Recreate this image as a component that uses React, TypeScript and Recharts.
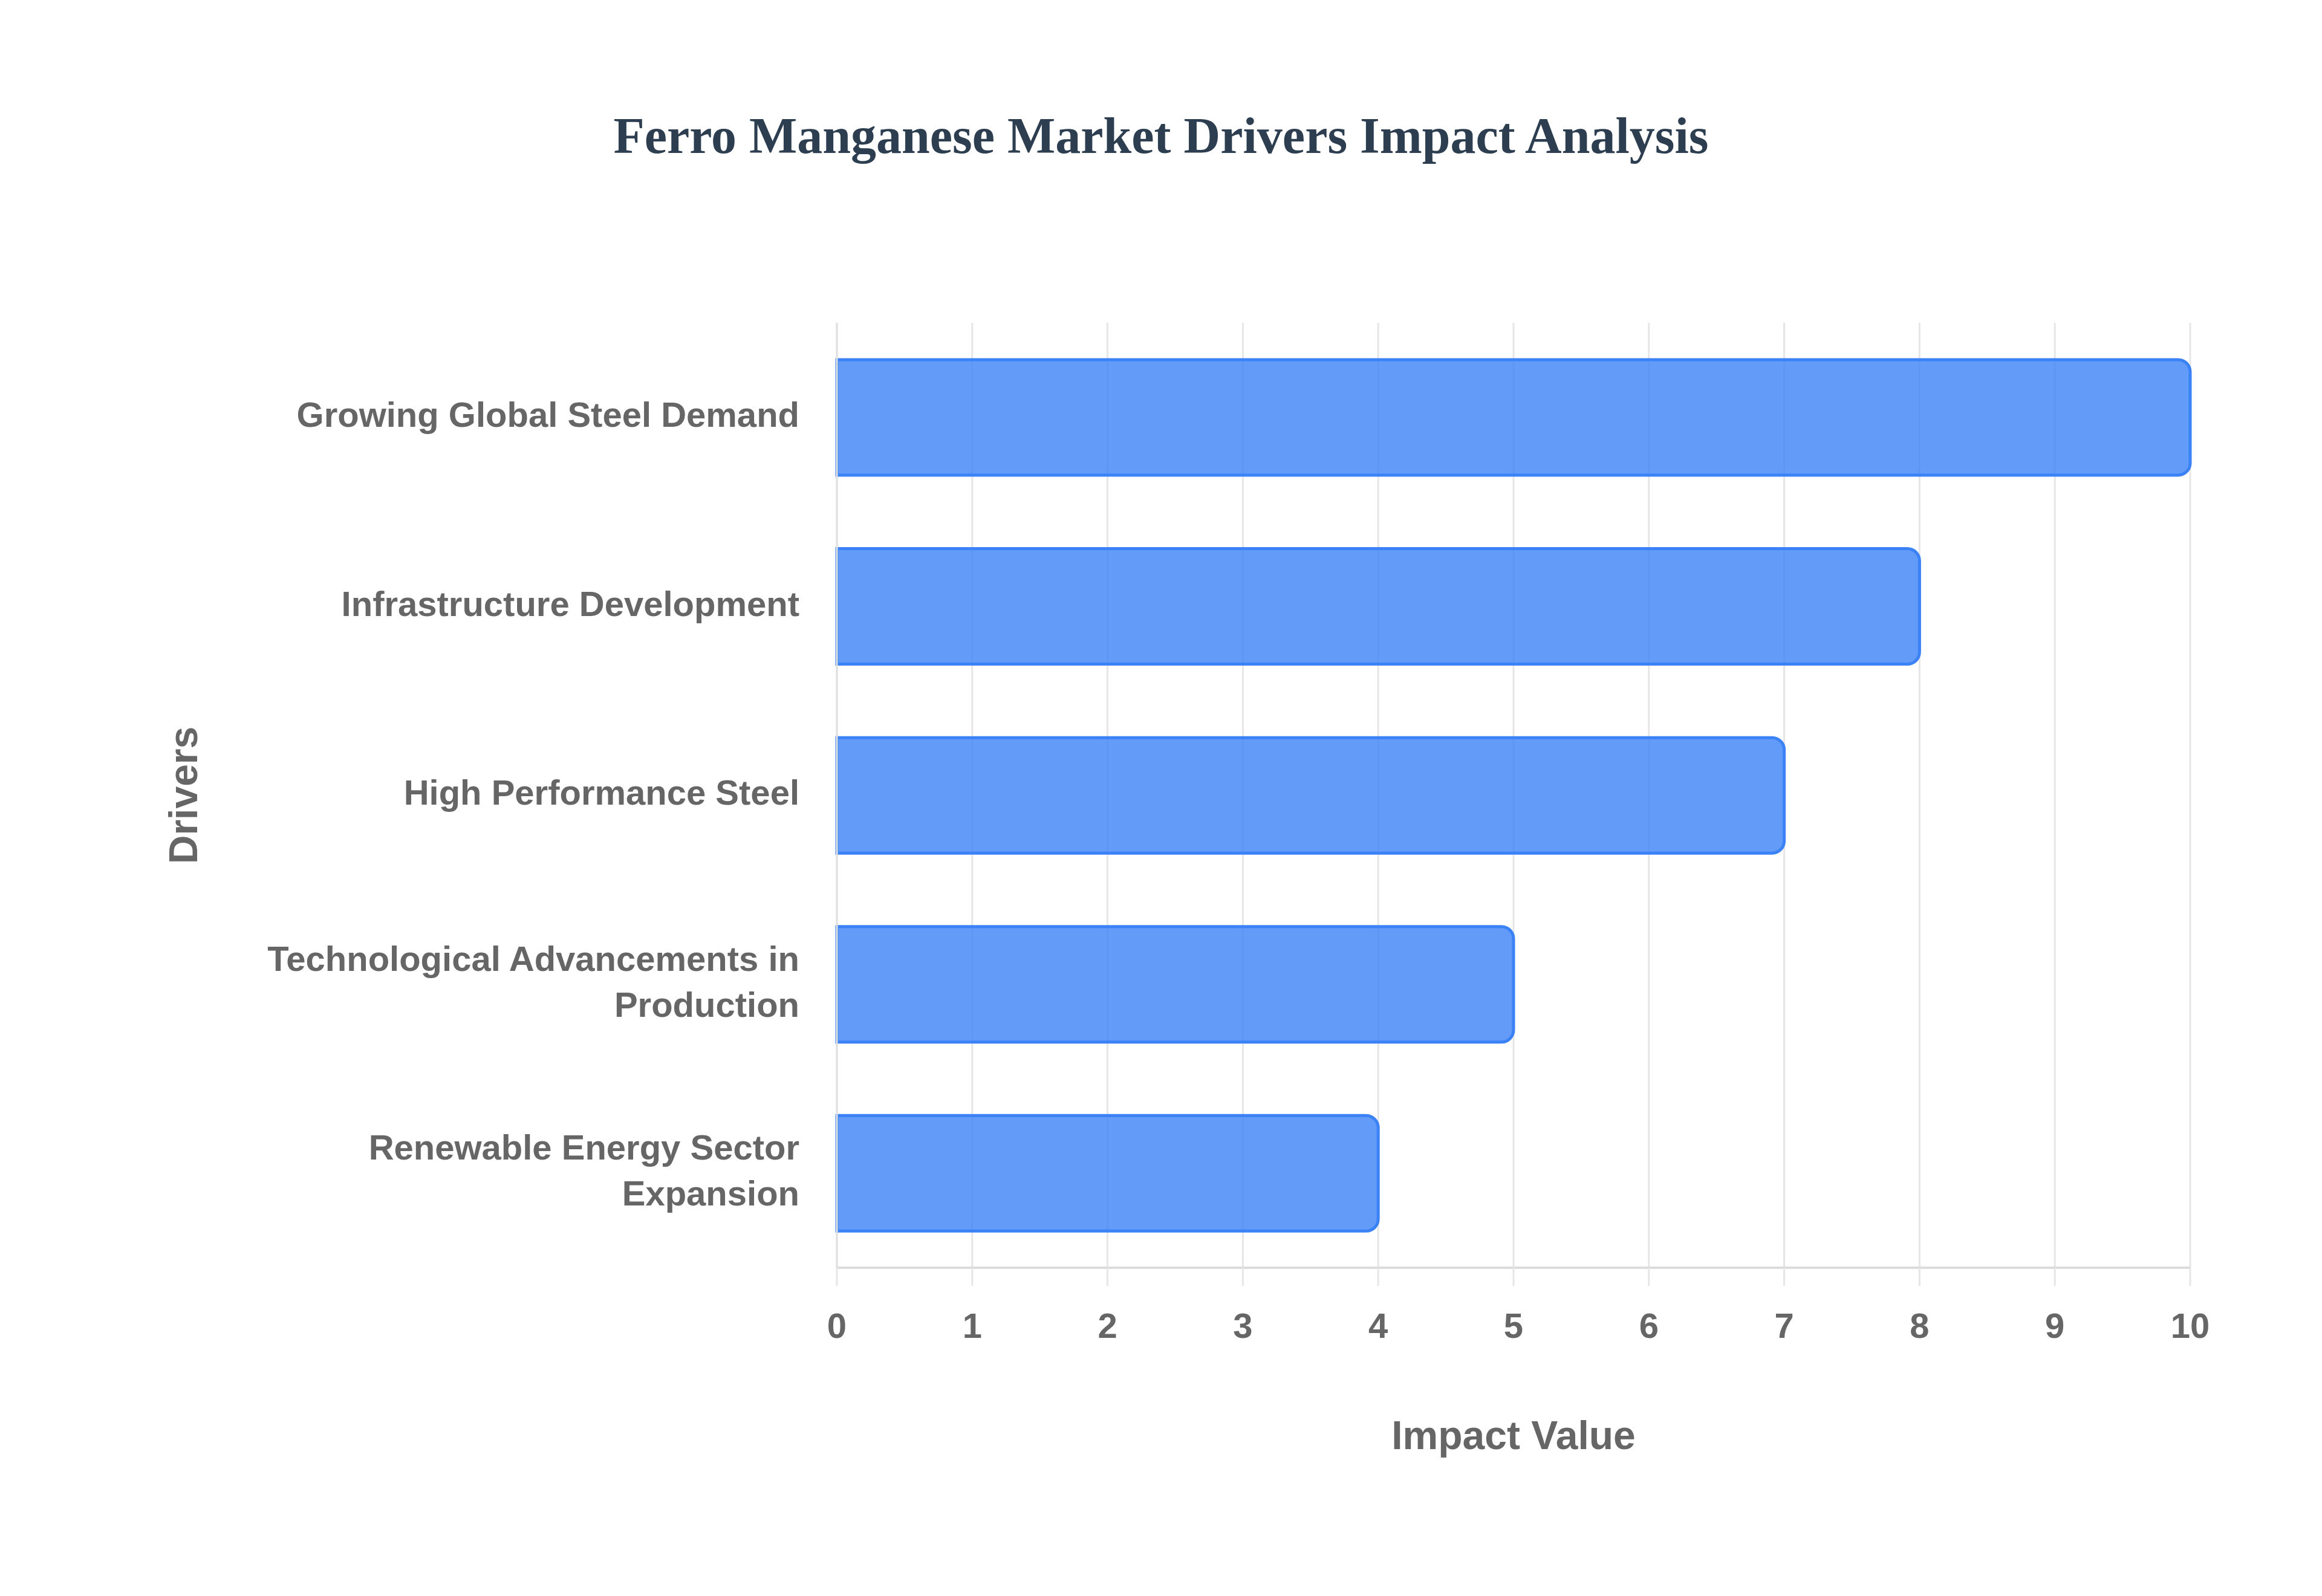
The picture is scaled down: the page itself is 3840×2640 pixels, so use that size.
import { BarChart, Bar, XAxis, YAxis, CartesianGrid, Label } from "recharts";

const drivers = [
    "Growing Global Steel Demand",
    "Infrastructure Development",
    "High Performance Steel",
    "Technological Advancements in Production",
    "Renewable Energy Sector Expansion",
];
// how each driver label is broken into lines on the axis
const driverLines = [
    ["Growing Global Steel Demand"],
    ["Infrastructure Development"],
    ["High Performance Steel"],
    ["Technological Advancements in", "Production"],
    ["Renewable Energy Sector", "Expansion"],
];
const impactValues = [10, 8, 7, 5, 4];
const impactTicks = [0, 1, 2, 3, 4, 5, 6, 7, 8, 9, 10];

const data = drivers.map((d, i) => ({ driver: d, impact: impactValues[i] }));

const FONT = "'Liberation Sans', Arial, Helvetica, sans-serif";
const TICK_COLOR = "#666666";

const DriverTick = (props: any) => {
    const { x, y, payload } = props;
    const idx = drivers.indexOf(payload.value);
    const lines = idx >= 0 ? driverLines[idx] : [payload.value];
    const lh = 76;
    const first = -((lines.length - 1) / 2) * lh + 0.27 * 58;
    return (
        <text
            x={x}
            y={y}
            textAnchor="end"
            fill={TICK_COLOR}
            fontSize={58}
            fontWeight={700}
            fontFamily={FONT}
        >
            {lines.map((l: string, i: number) => (
                <tspan key={i} x={x} dy={i === 0 ? first : lh}>
                    {l}
                </tspan>
            ))}
        </text>
    );
};

const App = () => {
    return (
        <div
            style={{
                position: "absolute",
                left: 0,
                top: 0,
                width: 3840,
                height: 2640,
                background: "#ffffff",
            }}
        >
            <svg
                width={3840}
                height={400}
                style={{ position: "absolute", left: 0, top: 0 }}
            >
                <text
                    x={1920}
                    y={253}
                    textAnchor="middle"
                    fill="#2c3e50"
                    fontSize={84}
                    fontWeight={700}
                    fontFamily="'Liberation Serif', 'Times New Roman', serif"
                >
                    Ferro Manganese Market Drivers Impact Analysis
                </text>
            </svg>
            <div style={{ position: "absolute", left: 0, top: 0 }}>
                <BarChart
                    width={3840}
                    height={2640}
                    data={data}
                    layout="vertical"
                    barCategoryGap="19.5%"
                    margin={{ top: 534, right: 218, left: 0, bottom: 0 }}
                >
                    <CartesianGrid
                        horizontal={false}
                        vertical={true}
                        stroke="#e6e6e6"
                        strokeWidth={3}
                    />
                    <XAxis
                        type="number"
                        domain={[0, 10]}
                        ticks={impactTicks}
                        interval={0}
                        height={543}
                        tickSize={30}
                        tickMargin={45}
                        axisLine={{ stroke: "#dcdcdc", strokeWidth: 4 }}
                        tickLine={{ stroke: "#e6e6e6", strokeWidth: 3 }}
                        tick={{
                            fill: TICK_COLOR,
                            fontSize: 58,
                            fontWeight: 700,
                            fontFamily: FONT,
                        }}
                    >
                        <Label
                            content={(p: any) => {
                                const vb = p.viewBox;
                                return (
                                    <text
                                        x={vb.x + vb.width / 2}
                                        y={vb.y + 300}
                                        textAnchor="middle"
                                        fill={TICK_COLOR}
                                        fontSize={66}
                                        fontWeight={700}
                                        fontFamily={FONT}
                                    >
                                        Impact Value
                                    </text>
                                );
                            }}
                        />
                    </XAxis>
                    <YAxis
                        type="category"
                        dataKey="driver"
                        width={1384}
                        tickSize={0}
                        tickMargin={62}
                        tickLine={false}
                        axisLine={{ stroke: "#e0e0e0", strokeWidth: 3 }}
                        tick={<DriverTick />}
                        interval={0}
                    >
                        <Label
                            content={(p: any) => {
                                const vb = p.viewBox;
                                const cx = vb.x + 326;
                                const cy = vb.y + vb.height / 2;
                                return (
                                    <text
                                        x={cx}
                                        y={cy}
                                        transform={`rotate(-90, ${cx}, ${cy})`}
                                        textAnchor="middle"
                                        fill={TICK_COLOR}
                                        fontSize={66}
                                        fontWeight={700}
                                        fontFamily={FONT}
                                    >
                                        Drivers
                                    </text>
                                );
                            }}
                        />
                    </YAxis>
                    <Bar
                        dataKey="impact"
                        fill="rgba(59, 130, 246, 0.8)"
                        stroke="#3b82f6"
                        strokeWidth={5}
                        radius={[0, 20, 20, 0]}
                        isAnimationActive={false}
                    />
                </BarChart>
            </div>
        </div>
    );
};

export default App;
